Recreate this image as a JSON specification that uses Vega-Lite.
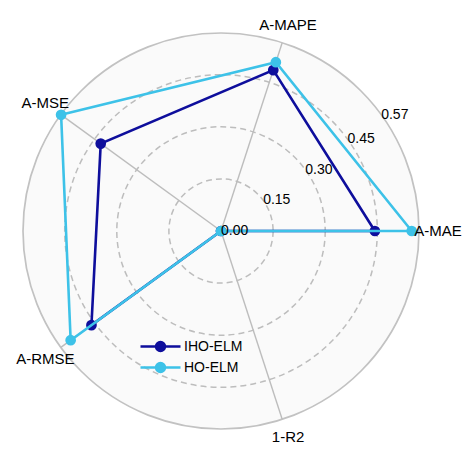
{
  "$schema": "https://vega.github.io/schema/vega-lite/v6.json",
  "width": 396,
  "height": 396,
  "autosize": {"type": "none"},
  "padding": {"left": 23, "top": 33, "right": 55, "bottom": 29},
  "background": "white",
  "config": {
    "view": {"stroke": null},
    "font": "Liberation Sans",
    "text": {"font": "Liberation Sans", "color": "#000000"}
  },
  "datasets": {
    "axes": [
      {"metric": "A-MAE", "k": 0},
      {"metric": "A-MAPE", "k": 1},
      {"metric": "A-MSE", "k": 2},
      {"metric": "A-RMSE", "k": 3},
      {"metric": "1-R2", "k": 4}
    ],
    "series": [
      {"model": "IHO-ELM", "metric": "A-MAE", "k": 0, "value": 0.443},
      {"model": "IHO-ELM", "metric": "A-MAPE", "k": 1, "value": 0.487},
      {"model": "IHO-ELM", "metric": "A-MSE", "k": 2, "value": 0.428},
      {"model": "IHO-ELM", "metric": "A-RMSE", "k": 3, "value": 0.461},
      {"model": "IHO-ELM", "metric": "1-R2", "k": 4, "value": 0},
      {"model": "HO-ELM", "metric": "A-MAE", "k": 0, "value": 0.549},
      {"model": "HO-ELM", "metric": "A-MAPE", "k": 1, "value": 0.511},
      {"model": "HO-ELM", "metric": "A-MSE", "k": 2, "value": 0.569},
      {"model": "HO-ELM", "metric": "A-RMSE", "k": 3, "value": 0.535},
      {"model": "HO-ELM", "metric": "1-R2", "k": 4, "value": 0}
    ],
    "outer": [{"r": 0.57}],
    "grid": [{"r": 0.15}, {"r": 0.3}, {"r": 0.45}],
    "ticks": [{"v": 0}, {"v": 0.15}, {"v": 0.3}, {"v": 0.45}, {"v": 0.57}]
  },
  "layer": [
    {
      "data": {"name": "outer"},
      "transform": [{"calculate": "0", "as": "c"}],
      "mark": {"type": "point", "shape": "circle", "filled": true, "fill": "#FAFAFA", "stroke": "#C2C2C2", "strokeWidth": 1.7, "opacity": 1},
      "encoding": {
        "x": {"field": "c", "type": "quantitative", "scale": {"domain": [-0.57, 0.57], "nice": false, "zero": false}, "axis": null},
        "y": {"field": "c", "type": "quantitative", "scale": {"domain": [-0.57, 0.57], "nice": false, "zero": false}, "axis": null},
        "size": {"field": "r", "type": "quantitative", "scale": {"type": "pow", "exponent": 2, "domain": [0, 0.57], "range": [0, 156816], "zero": true}, "legend": null}
      }
    },
    {
      "data": {"name": "grid"},
      "transform": [{"calculate": "0", "as": "c"}],
      "mark": {"type": "point", "shape": "circle", "filled": false, "stroke": "#BDBDBD", "strokeWidth": 1.5, "strokeDash": [6, 4], "opacity": 1},
      "encoding": {
        "x": {"field": "c", "type": "quantitative", "scale": {"domain": [-0.57, 0.57], "nice": false, "zero": false}, "axis": null},
        "y": {"field": "c", "type": "quantitative", "scale": {"domain": [-0.57, 0.57], "nice": false, "zero": false}, "axis": null},
        "size": {"field": "r", "type": "quantitative", "scale": {"type": "pow", "exponent": 2, "domain": [0, 0.57], "range": [0, 156816], "zero": true}, "legend": null}
      }
    },
    {
      "data": {"name": "axes"},
      "transform": [
        {"calculate": "0", "as": "c"},
        {"calculate": "0.57 * cos(datum.k * 2 * PI / 5)", "as": "ex"},
        {"calculate": "0.57 * sin(datum.k * 2 * PI / 5)", "as": "ey"}
      ],
      "mark": {"type": "rule", "color": "#BDBDBD", "strokeWidth": 1.4},
      "encoding": {
        "x": {"field": "c", "type": "quantitative", "scale": {"domain": [-0.57, 0.57], "nice": false, "zero": false}, "axis": null},
        "y": {"field": "c", "type": "quantitative", "scale": {"domain": [-0.57, 0.57], "nice": false, "zero": false}, "axis": null},
        "x2": {"field": "ex"},
        "y2": {"field": "ey"}
      }
    },
    {
      "data": {"name": "series"},
      "transform": [
        {"filter": "datum.model === 'IHO-ELM'"},
        {"calculate": "datum.value * cos(datum.k * 2 * PI / 5)", "as": "px"},
        {"calculate": "datum.value * sin(datum.k * 2 * PI / 5)", "as": "py"}
      ],
      "layer": [
        {"mark": {"type": "line", "interpolate": "linear-closed", "strokeWidth": 2.6}},
        {"mark": {"type": "point", "shape": "circle", "filled": true, "opacity": 1, "size": 115}}
      ],
      "encoding": {
        "x": {"field": "px", "type": "quantitative", "scale": {"domain": [-0.57, 0.57], "nice": false, "zero": false}, "axis": null},
        "y": {"field": "py", "type": "quantitative", "scale": {"domain": [-0.57, 0.57], "nice": false, "zero": false}, "axis": null},
        "order": {"field": "k", "type": "quantitative"},
        "color": {
          "field": "model", "type": "nominal",
          "scale": {"domain": ["IHO-ELM", "HO-ELM"], "range": ["#0E0E9C", "#3DC2E8"]},
          "legend": {
            "title": null, "orient": "none", "legendX": 128, "legendY": 304,
            "symbolType": "M-2.5,0H2.5M-0.55,0A0.55,0.55,0,1,1,0.55,0A0.55,0.55,0,1,1,-0.55,0ZM-0.3,0A0.3,0.3,0,1,1,0.3,0A0.3,0.3,0,1,1,-0.3,0ZM-0.06,0A0.06,0.06,0,1,1,0.06,0A0.06,0.06,0,1,1,-0.06,0Z",
            "symbolSize": 256, "symbolStrokeWidth": 2.6, "labelOffset": 14, "rowPadding": 0,
            "labelFontSize": 14, "labelFont": "Liberation Sans", "labelColor": "#000000"
          }
        }
      }
    },
    {
      "data": {"name": "series"},
      "transform": [
        {"filter": "datum.model === 'HO-ELM'"},
        {"calculate": "datum.value * cos(datum.k * 2 * PI / 5)", "as": "px"},
        {"calculate": "datum.value * sin(datum.k * 2 * PI / 5)", "as": "py"}
      ],
      "layer": [
        {"mark": {"type": "line", "interpolate": "linear-closed", "strokeWidth": 2.6}},
        {"mark": {"type": "point", "shape": "circle", "filled": true, "opacity": 1, "size": 115}}
      ],
      "encoding": {
        "x": {"field": "px", "type": "quantitative", "scale": {"domain": [-0.57, 0.57], "nice": false, "zero": false}, "axis": null},
        "y": {"field": "py", "type": "quantitative", "scale": {"domain": [-0.57, 0.57], "nice": false, "zero": false}, "axis": null},
        "order": {"field": "k", "type": "quantitative"},
        "color": {
          "field": "model", "type": "nominal",
          "scale": {"domain": ["IHO-ELM", "HO-ELM"], "range": ["#0E0E9C", "#3DC2E8"]},
          "legend": {
            "title": null, "orient": "none", "legendX": 128, "legendY": 304,
            "symbolType": "M-2.5,0H2.5M-0.55,0A0.55,0.55,0,1,1,0.55,0A0.55,0.55,0,1,1,-0.55,0ZM-0.3,0A0.3,0.3,0,1,1,0.3,0A0.3,0.3,0,1,1,-0.3,0ZM-0.06,0A0.06,0.06,0,1,1,0.06,0A0.06,0.06,0,1,1,-0.06,0Z",
            "symbolSize": 256, "symbolStrokeWidth": 2.6, "labelOffset": 14, "rowPadding": 0,
            "labelFontSize": 14, "labelFont": "Liberation Sans", "labelColor": "#000000"
          }
        }
      }
    },
    {
      "data": {"name": "ticks"},
      "transform": [
        {"calculate": "datum.v * cos(PI / 5)", "as": "tx"},
        {"calculate": "datum.v * sin(PI / 5)", "as": "ty"}
      ],
      "mark": {"type": "text", "align": "left", "baseline": "middle", "fontSize": 14},
      "encoding": {
        "x": {"field": "tx", "type": "quantitative", "scale": {"domain": [-0.57, 0.57], "nice": false, "zero": false}, "axis": null},
        "y": {"field": "ty", "type": "quantitative", "scale": {"domain": [-0.57, 0.57], "nice": false, "zero": false}, "axis": null},
        "text": {"field": "v", "type": "quantitative", "format": ".2f"}
      }
    },
    {
      "data": {"name": "axes"},
      "transform": [
        {"calculate": "0.625 * cos(datum.k * 2 * PI / 5)", "as": "lx"},
        {"calculate": "0.625 * sin(datum.k * 2 * PI / 5)", "as": "ly"}
      ],
      "mark": {"type": "text", "align": "center", "baseline": "middle", "fontSize": 15},
      "encoding": {
        "x": {"field": "lx", "type": "quantitative", "scale": {"domain": [-0.57, 0.57], "nice": false, "zero": false}, "axis": null},
        "y": {"field": "ly", "type": "quantitative", "scale": {"domain": [-0.57, 0.57], "nice": false, "zero": false}, "axis": null},
        "text": {"field": "metric", "type": "nominal"}
      }
    }
  ]
}
